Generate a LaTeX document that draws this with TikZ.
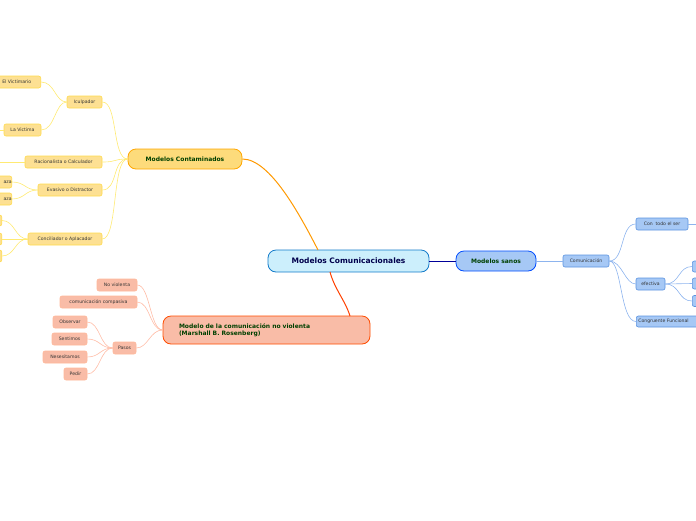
\documentclass[tikz,border=0pt]{standalone}
\usepackage{fontspec}
\setmainfont{DejaVu Sans}
\definecolor{sbf}{HTML}{A6C8F5}
\definecolor{sbd}{HTML}{5B93E0}
\definecolor{sbl}{HTML}{8DB4EE}
\definecolor{obf}{HTML}{F9BCA7}
\begin{document}
\begin{tikzpicture}[x=1pt,y=-1pt,
 base/.style={draw,rounded corners=2pt,inner sep=0pt,line width=0.6pt,font=\fontsize{4.6}{5.5}\selectfont,text=black!80},
 yb/.style={base,fill=yellow!45!orange!40,draw=orange!40!yellow!70},
 ob/.style={base,fill=obf,draw=orange!60!red!40},
 bb/.style={base,fill=sbf,draw=sbd},
 yl/.style={draw=orange!30!yellow!55,line width=0.6pt},
 ol/.style={draw=orange!50!red!35,line width=0.6pt},
 bl/.style={draw=sbl,line width=0.6pt},
 big/.style={draw,rounded corners=8pt,inner sep=0pt,line width=0.8pt,font=\bfseries\fontsize{6}{7}\selectfont,text={green!25!black}}]
\useasboundingbox (0,0) rectangle (696,520);
\begin{scope}
\clip (0,0) rectangle (696,520);
% main
\node[big,fill=cyan!20,draw=cyan!60!blue,minimum width=161,minimum height=22,font=\bfseries\fontsize{7.5}{9}\selectfont,text=blue!30!black] (c) at (348.5,261) {Modelos Comunicacionales};
\node[big,fill=sbf,draw=blue!70!cyan,minimum width=80,minimum height=20] (s) at (496,261) {Modelos sanos};
\node[big,fill=yellow!50!orange!50,draw=orange!70!yellow,minimum width=114,minimum height=20] (mc) at (185,159) {Modelos Contaminados};
\node[big,fill=obf,draw=orange!60!red,minimum width=207,minimum height=28,align=left,text width=175] (nv) at (266.5,330) {Modelo de la comunicación no violenta\\(Marshall B. Rosenberg)};
\coordinate (cT) at (318,250);
\coordinate (cB) at (330,272);
\coordinate (nvT) at (350,316);
\draw[line width=1pt,orange!80!yellow] (cT) .. controls (300,215) and (270,159) .. (mc.east);
\draw[line width=1pt,orange!50!red] (cB) .. controls (335,290) and (345,300) .. (nvT);
\draw[line width=0.8pt,blue!60!black] (c.east) -- (s.west);
% sanos branch
\node[bb,minimum width=46,minimum height=12] (com) at (586,261) {Comunicación};
\node[bb,minimum width=52,minimum height=12] (con) at (662,224) {Con\ \ todo el ser};
\node[bb,minimum width=29,minimum height=12] (ef) at (650.5,284) {efectiva};
\node[bb,minimum width=70,minimum height=11,anchor=west,text width=66,align=left] (cf) at (636,321.5) {Congruente Funcional};
\node[bb,minimum width=12,minimum height=11,anchor=west] (e1) at (692,266.5) {};
\node[bb,minimum width=12,minimum height=11,anchor=west] (e2) at (692,283.5) {};
\node[bb,minimum width=12,minimum height=11,anchor=west] (e3) at (692,301) {};
\coordinate (conR) at (700,224);
\draw[bl] (s.east) -- (com.west);
\draw[bl] (con.east) -- (conR);
\draw[bl] (com.east) .. controls (625,261) and (620,224) .. (con.west);
\draw[bl] (com.east) .. controls (622,261) and (625,284) .. (ef.west);
\draw[bl] (com.east) .. controls (622,261) and (620,321.5) .. (cf.west);
\draw[bl] (ef.east) .. controls (680,284) and (678,266.5) .. (e1.west);
\draw[bl] (ef.east) -- (e2.west);
\draw[bl] (ef.east) .. controls (680,284) and (678,301) .. (e3.west);
% contaminados branch
\node[yb,minimum width=35,minimum height=12] (ic) at (84.5,102) {Iculpador};
\node[yb,minimum width=48,minimum height=12,anchor=east] (ev) at (41,82) {El Victimario};
\node[yb,minimum width=37,minimum height=12] (lv) at (22.5,130) {La Victima};
\node[yb,minimum width=77,minimum height=12] (ra) at (63.5,162) {Racionalista o Calculador};
\node[yb,minimum width=64,minimum height=12] (ed) at (70,190) {Evasivo o Distractor};
\node[yb,minimum height=12,anchor=east,text width=26,align=right] (a1) at (12,182) {aza};
\node[yb,minimum height=12,anchor=east,text width=26,align=right] (a2) at (12,199) {aza};
\node[yb,minimum width=74,minimum height=12] (ca) at (65,239) {Conciliador o Aplacador};
\node[yb,minimum width=20,minimum height=11,anchor=east] (k1) at (2,220.5) {};
\node[yb,minimum width=20,minimum height=12,anchor=east] (k2) at (2,239) {};
\node[yb,minimum width=20,minimum height=12,anchor=east] (k3) at (2,256) {};
\coordinate (lvL) at (-5,130);
\coordinate (raL) at (-5,162);
\draw[yl] (mc.west) .. controls (112,159) and (118,102) .. (ic.east);
\draw[yl] (mc.west) .. controls (112,159) and (118,162) .. (ra.east);
\draw[yl] (mc.west) .. controls (112,159) and (118,190) .. (ed.east);
\draw[yl] (mc.west) .. controls (112,159) and (118,239) .. (ca.east);
\draw[yl] (ic.west) .. controls (55,102) and (55,82) .. (ev.east);
\draw[yl] (ic.west) .. controls (55,102) and (55,130) .. (lv.east);
\draw[yl] (lv.west) -- (lvL);
\draw[yl] (ra.west) -- (raL);
\draw[yl] (ed.west) .. controls (25,190) and (25,182) .. (a1.east);
\draw[yl] (ed.west) .. controls (25,190) and (25,199) .. (a2.east);
\draw[yl] (ca.west) .. controls (15,239) and (15,220.5) .. (k1.east);
\draw[yl] (ca.west) -- (k2.east);
\draw[yl] (ca.west) .. controls (15,239) and (15,256) .. (k3.east);
% no violenta branch
\node[ob,minimum width=40,minimum height=12] (nov) at (117,285) {No violenta};
\node[ob,minimum width=77,minimum height=12] (cc) at (98.5,302) {comunicación compasiva};
\node[ob,minimum width=23,minimum height=12] (pa) at (124.5,348) {Pasos};
\node[ob,minimum width=34,minimum height=12] (ob) at (70,322) {Observar};
\node[ob,minimum width=35,minimum height=12] (se) at (69.5,339) {Sentimos};
\node[ob,minimum width=44,minimum height=12] (ne) at (65,357) {Nesesitamos};
\node[ob,minimum width=23,minimum height=12] (pe) at (75.5,374) {Pedir};
\draw[ol] (nv.west) .. controls (150,330) and (150,285) .. (nov.east);
\draw[ol] (nv.west) .. controls (150,330) and (150,302) .. (cc.east);
\draw[ol] (nv.west) .. controls (150,330) and (148,348) .. (pa.east);
\draw[ol] (pa.west) .. controls (100,348) and (100,322) .. (ob.east);
\draw[ol] (pa.west) .. controls (100,348) and (100,339) .. (se.east);
\draw[ol] (pa.west) .. controls (100,348) and (100,357) .. (ne.east);
\draw[ol] (pa.west) .. controls (100,348) and (100,374) .. (pe.east);
\end{scope}
\end{tikzpicture}
\end{document}
